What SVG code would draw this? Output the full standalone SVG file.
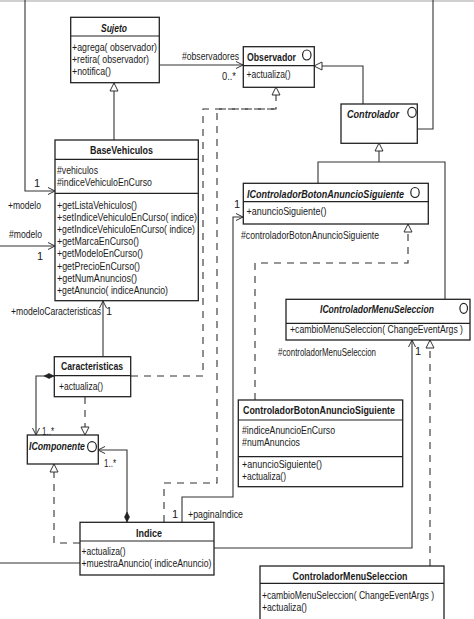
<svg xmlns="http://www.w3.org/2000/svg" width="474" height="619" viewBox="0 0 474 619">
<style>
text{font-family:"Liberation Sans",Arial,sans-serif;font-size:11px;fill:#1a1a1a}
.b{font-weight:bold}
.bi{font-weight:bold;font-style:italic}
.m{text-anchor:middle}
.box{fill:#fff;stroke:#222;stroke-width:1.3}
.sep{stroke:#222;stroke-width:1.2}
.ic{fill:#fff;stroke:#222;stroke-width:1.2}
.ln{fill:none;stroke:#333;stroke-width:1.1}
.dash{fill:none;stroke:#333;stroke-width:1.1;stroke-dasharray:7,6}
</style>
<defs>
<marker id="open" markerWidth="10" markerHeight="10" refX="8" refY="4" orient="auto" markerUnits="userSpaceOnUse"><path d="M1,0.5 L8,4 L1,7.5" fill="none" stroke="#333" stroke-width="1"/></marker>
<marker id="tri" markerWidth="12" markerHeight="12" refX="9" refY="5" orient="auto" markerUnits="userSpaceOnUse"><path d="M1,1 L9,5 L1,9 Z" fill="#fff" stroke="#333" stroke-width="1"/></marker>
<marker id="dia" markerWidth="12" markerHeight="10" refX="0" refY="4" orient="auto" markerUnits="userSpaceOnUse"><path d="M0,4 L5,1.5 L10,4 L5,6.5 Z" fill="#222" stroke="#222" stroke-width="0.6"/></marker>
</defs>
<rect x="0" y="0" width="474" height="2" fill="#d0d0d0"/>

<g id="connectors">
<polyline class="ln" points="159,65 243,65" marker-end="url(#open)"/>
<polyline class="ln" points="25,0 25,191 55,191" marker-end="url(#open)"/>
<polyline class="ln" points="0,246 55,246" marker-end="url(#open)"/>
<polyline class="ln" points="0,563 80,563"/>
<polyline class="ln" points="433,0 433,129 417,129"/>
<polyline class="ln" points="114,140 114,83" marker-end="url(#tri)"/>
<polyline class="ln" points="363,104 363,66 314,66" marker-end="url(#tri)"/>
<polyline class="ln" points="379,162 379,143" marker-end="url(#tri)"/>
<polyline class="ln" points="318,183 318,162 445,162 445,299"/>
<polyline class="dash" points="131,376 203,376 203,109 276,109"/>
<polyline class="dash" points="164,522 164,483 217,483 217,109 276,109 276,87" marker-end="url(#tri)"/>
<polyline class="ln" points="103,357 103,301" marker-end="url(#open)"/>
<polyline class="ln" points="54,376 36,376 36,435" marker-start="url(#dia)" marker-end="url(#open)"/>
<polyline class="dash" points="85,397 85,435" marker-end="url(#tri)"/>
<polyline class="dash" points="80,543 54,543 54,464" marker-end="url(#tri)"/>
<polyline class="ln" points="127,522 127,450 98,450" marker-start="url(#dia)" marker-end="url(#open)"/>
<polyline class="ln" points="182,522 182,497 233,497 233,217 243,217" marker-end="url(#open)"/>
<polyline class="ln" points="214,548 412,548 412,340" marker-end="url(#open)"/>
<polyline class="dash" points="255,400 255,263 408,263 408,224" marker-end="url(#tri)"/>
<polyline class="dash" points="430,566 430,340" marker-end="url(#tri)"/>
<text x="182" y="60" textLength="57" lengthAdjust="spacingAndGlyphs">#observadores</text>
<text x="222" y="80" textLength="14" lengthAdjust="spacingAndGlyphs">0..*</text>
<text x="34" y="187">1</text>
<text x="8" y="208.5" textLength="33" lengthAdjust="spacingAndGlyphs">+modelo</text>
<text x="9" y="237.5" textLength="33" lengthAdjust="spacingAndGlyphs">#modelo</text>
<text x="37" y="260">1</text>
<text x="11" y="314.5" textLength="90" lengthAdjust="spacingAndGlyphs">+modeloCaracteristicas</text>
<text x="106" y="314.5">1</text>
<text x="42" y="435" textLength="12" lengthAdjust="spacingAndGlyphs">1..*</text>
<text x="104" y="467" textLength="12" lengthAdjust="spacingAndGlyphs">1..*</text>
<text x="234" y="208">1</text>
<text x="241" y="238.5" textLength="138" lengthAdjust="spacingAndGlyphs">#controladorBotonAnuncioSiguiente</text>
<text x="278" y="355.5" textLength="98" lengthAdjust="spacingAndGlyphs">#controladorMenuSeleccion</text>
<text x="415" y="355">1</text>
<text x="172" y="518">1</text>
<text x="188" y="518" textLength="55" lengthAdjust="spacingAndGlyphs">+paginaIndice</text>
</g>

<g id="Sujeto">
<rect class="box" x="70.7" y="17.3" width="88.6" height="65.4"/>
<line class="sep" x1="70.7" y1="36" x2="159.3" y2="36"/>
<text class="bi m" x="114" y="32" textLength="26" lengthAdjust="spacingAndGlyphs">Sujeto</text>
<text x="72" y="51" textLength="85" lengthAdjust="spacingAndGlyphs">+agrega( observador)</text>
<text x="72" y="63" textLength="77" lengthAdjust="spacingAndGlyphs">+retira( observador)</text>
<text x="72" y="75" textLength="39" lengthAdjust="spacingAndGlyphs">+notifica()</text>
</g>

<g id="Observador">
<rect class="box" x="243.3" y="46.7" width="71" height="40.6"/>
<line class="sep" x1="243.3" y1="65.7" x2="314.3" y2="65.7"/>
<text class="b" x="247" y="60.5" textLength="49" lengthAdjust="spacingAndGlyphs">Observador</text>
<ellipse class="ic" cx="306.8" cy="55" rx="4.2" ry="5"/>
<text x="246.5" y="78" textLength="44" lengthAdjust="spacingAndGlyphs">+actualiza()</text>
</g>

<g id="Controlador">
<rect class="box" x="341" y="104" width="76.3" height="39.3"/>
<text class="bi" x="347" y="118" textLength="52" lengthAdjust="spacingAndGlyphs">Controlador</text>
<ellipse class="ic" cx="412" cy="112.3" rx="4.2" ry="5"/>
</g>

<g id="BaseVehiculos">
<rect class="box" x="55" y="140" width="143.3" height="160.7"/>
<line class="sep" x1="55" y1="159.3" x2="198.3" y2="159.3"/>
<line class="sep" x1="55" y1="193.3" x2="198.3" y2="193.3"/>
<text class="b m" x="121.5" y="153.5" textLength="63" lengthAdjust="spacingAndGlyphs">BaseVehiculos</text>
<text x="57" y="173.5" textLength="41" lengthAdjust="spacingAndGlyphs">#vehiculos</text>
<text x="57" y="185.5" textLength="95" lengthAdjust="spacingAndGlyphs">#indiceVehiculoEnCurso</text>
<text x="57" y="208.5" textLength="80" lengthAdjust="spacingAndGlyphs">+getListaVehiculos()</text>
<text x="57" y="220.7" textLength="140" lengthAdjust="spacingAndGlyphs">+setIndiceVehiculoEnCurso( indice)</text>
<text x="57" y="232.9" textLength="138" lengthAdjust="spacingAndGlyphs">+getIndiceVehiculoEnCurso( indice)</text>
<text x="57" y="245.1" textLength="82" lengthAdjust="spacingAndGlyphs">+getMarcaEnCurso()</text>
<text x="57" y="257.3" textLength="86" lengthAdjust="spacingAndGlyphs">+getModeloEnCurso()</text>
<text x="57" y="269.5" textLength="83" lengthAdjust="spacingAndGlyphs">+getPrecioEnCurso()</text>
<text x="57" y="281.7" textLength="80" lengthAdjust="spacingAndGlyphs">+getNumAnuncios()</text>
<text x="57" y="294" textLength="111" lengthAdjust="spacingAndGlyphs">+getAnuncio( indiceAnuncio)</text>
</g>

<g id="IControladorBotonAnuncioSiguiente">
<rect class="box" x="243.3" y="183.3" width="185" height="40.7"/>
<line class="sep" x1="243.3" y1="201.7" x2="428.3" y2="201.7"/>
<text class="bi" x="247" y="198" textLength="157" lengthAdjust="spacingAndGlyphs">IControladorBotonAnuncioSiguiente</text>
<ellipse class="ic" cx="415" cy="192.5" rx="4.2" ry="5"/>
<text x="246.5" y="215" textLength="80" lengthAdjust="spacingAndGlyphs">+anuncioSiguiente()</text>
</g>

<g id="IControladorMenuSeleccion">
<rect class="box" x="286" y="299.3" width="184" height="40.7"/>
<line class="sep" x1="286" y1="323.3" x2="470" y2="323.3"/>
<text class="bi" x="320" y="313" textLength="114" lengthAdjust="spacingAndGlyphs">IControladorMenuSeleccion</text>
<ellipse class="ic" cx="463.7" cy="308.3" rx="3.8" ry="5"/>
<text x="290" y="333" textLength="173" lengthAdjust="spacingAndGlyphs">+cambioMenuSeleccion( ChangeEventArgs )</text>
</g>

<g id="Caracteristicas">
<rect class="box" x="54.3" y="356.7" width="76.4" height="40"/>
<line class="sep" x1="54.3" y1="375.7" x2="130.7" y2="375.7"/>
<text class="b m" x="92" y="370" textLength="62" lengthAdjust="spacingAndGlyphs">Caracteristicas</text>
<text x="59" y="390" textLength="44" lengthAdjust="spacingAndGlyphs">+actualiza()</text>
</g>

<g id="IComponente">
<rect class="box" x="27.3" y="435" width="71" height="29"/>
<text class="bi" x="29" y="450" textLength="56" lengthAdjust="spacingAndGlyphs">IComponente</text>
<ellipse class="ic" cx="92" cy="446.7" rx="4.4" ry="5"/>
</g>

<g id="ControladorBotonAnuncioSiguiente">
<rect class="box" x="238.3" y="400" width="164.4" height="86.7"/>
<line class="sep" x1="238.3" y1="420" x2="402.7" y2="420"/>
<line class="sep" x1="238.3" y1="456.7" x2="402.7" y2="456.7"/>
<text class="b m" x="319" y="414" textLength="152" lengthAdjust="spacingAndGlyphs">ControladorBotonAnuncioSiguiente</text>
<text x="242" y="434" textLength="93" lengthAdjust="spacingAndGlyphs">#indiceAnuncioEnCurso</text>
<text x="242" y="446" textLength="58" lengthAdjust="spacingAndGlyphs">#numAnuncios</text>
<text x="242" y="468" textLength="80" lengthAdjust="spacingAndGlyphs">+anuncioSiguiente()</text>
<text x="242" y="480" textLength="44" lengthAdjust="spacingAndGlyphs">+actualiza()</text>
</g>

<g id="Indice">
<rect class="box" x="80" y="522.3" width="134" height="52.7"/>
<line class="sep" x1="80" y1="541" x2="214" y2="541"/>
<text class="b m" x="149" y="536.5" textLength="26" lengthAdjust="spacingAndGlyphs">Indice</text>
<text x="81.5" y="555" textLength="44" lengthAdjust="spacingAndGlyphs">+actualiza()</text>
<text x="81.5" y="567" textLength="130" lengthAdjust="spacingAndGlyphs">+muestraAnuncio( indiceAnuncio)</text>
</g>

<g id="ControladorMenuSeleccion">
<rect class="box" x="260" y="566" width="184" height="60"/>
<line class="sep" x1="260" y1="583.3" x2="444" y2="583.3"/>
<text class="b m" x="350" y="580" textLength="115" lengthAdjust="spacingAndGlyphs">ControladorMenuSeleccion</text>
<text x="262" y="599" textLength="172" lengthAdjust="spacingAndGlyphs">+cambioMenuSeleccion( ChangeEventArgs )</text>
<text x="262" y="611" textLength="45" lengthAdjust="spacingAndGlyphs">+actualiza()</text>
</g>
</svg>
